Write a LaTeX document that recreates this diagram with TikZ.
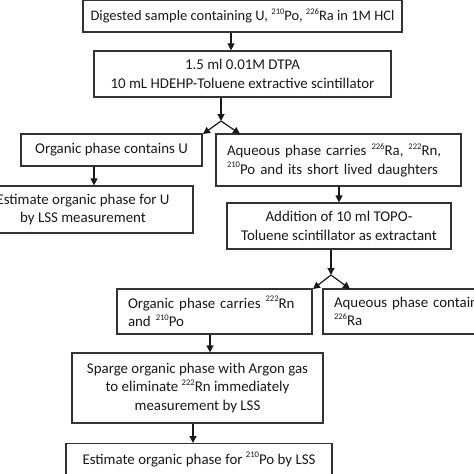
\documentclass[tikz,border=0pt]{standalone}
\usepackage{fontspec}
\setmainfont{Carlito}
\usetikzlibrary{arrows.meta,calc}
\newcommand{\isot}[2]{\raisebox{0.42em}{\fontsize{8.6}{9}\selectfont #1}#2}
\begin{document}
\begin{tikzpicture}[x=1pt,y=-1pt,
  font=\fontsize{14.9}{18.6}\selectfont,
  box/.style={draw=black!80, line width=1.2pt, rectangle, inner sep=0pt, text=black!90, align=center},
  lbox/.style={box, align=left, inner xsep=11pt},
  arr/.style={-{Triangle[length=7pt,width=7pt]}, line width=1.2pt, draw=black!90}]
\useasboundingbox (0,0) rectangle (474,474);
\clip (0,0) rectangle (474,474);

\node[box, minimum width=319pt, minimum height=31.5pt, font=\fontsize{14.5}{18.6}\selectfont] (b1) at (242.5,16.25)
  {Digested sample containing U, \isot{210}{Po}, \isot{226}{Ra} in 1M HCl};
\node[box, minimum width=297pt, minimum height=46pt] (b2) at (242.5,74)
  {1.5 ml 0.01M DTPA\\ 10 mL HDEHP-Toluene extractive scintillator};
\node[box, minimum width=181pt, minimum height=32pt] (u) at (111.5,150)
  {Organic phase contains U};
\node[lbox, text width=223pt, minimum height=52pt] (aq1) at (338.5,160)
  {\mbox{Aqueous phase carries \isot{226}{Ra}, \isot{222}{Rn},}\\ \mbox{\isot{210}{Po} and its short lived daughters}};
\node[box, minimum width=220pt, minimum height=47pt] (estu) at (83,209.5)
  {Estimate organic phase for U\\ by LSS measurement};
\node[box, minimum width=224pt, minimum height=46pt] (add) at (339,226)
  {Addition of 10 ml TOPO-\\ Toluene scintillator as extractant};
\node[lbox, text width=173pt, minimum height=45pt] (org) at (214.5,311.5)
  {\mbox{Organic phase carries \isot{222}{Rn}}\\ \mbox{and \isot{210}{Po}}};
\node[lbox, text width=220pt, minimum height=45pt] (aq2) at (444,311.5)
  {\mbox{Aqueous phase contains}\\ \mbox{\isot{226}{Ra}}};
\node[box, minimum width=251pt, minimum height=70pt] (sp) at (197.5,388)
  {Sparge organic phase with Argon gas\\ to eliminate \isot{222}{Rn} immediately\\ measurement by LSS};
\node[box, minimum width=266pt, minimum height=32pt, anchor=north] (po) at (199,443)
  {Estimate organic phase for \isot{210}{Po} by LSS};
\draw[box] (po.south west) -- ++(0,10) (po.south east) -- ++(0,10);

\coordinate (x1) at (231,0);
\coordinate (j1) at (221,121);
\coordinate (t1) at (203,134);
\coordinate (t2) at (240,134);
\coordinate (j2) at (331,275);
\coordinate (t3) at (313,289);
\coordinate (t4) at (350,289);
\coordinate (x2) at (94,0);
\coordinate (x3) at (339,0);
\coordinate (x4) at (210,0);
\coordinate (x5) at (193,0);

\draw[arr] (b1.south -| x1) -- (b2.north -| x1);
\draw[arr] (b2.south -| j1) -- (j1);
\draw[arr] (j1) -- (t1);
\draw[arr] (j1) -- (t2);
\draw[arr] (u.south -| x2) -- (estu.north -| x2);
\draw[arr] (aq1.south -| x3) -- (add.north -| x3);
\draw[arr] (add.south -| j2) -- (j2);
\draw[arr] (j2) -- (t3);
\draw[arr] (j2) -- (t4);
\draw[arr] (org.south -| x4) -- (sp.north -| x4);
\draw[arr] (sp.south -| x5) -- (po.north -| x5);
\end{tikzpicture}
\end{document}
